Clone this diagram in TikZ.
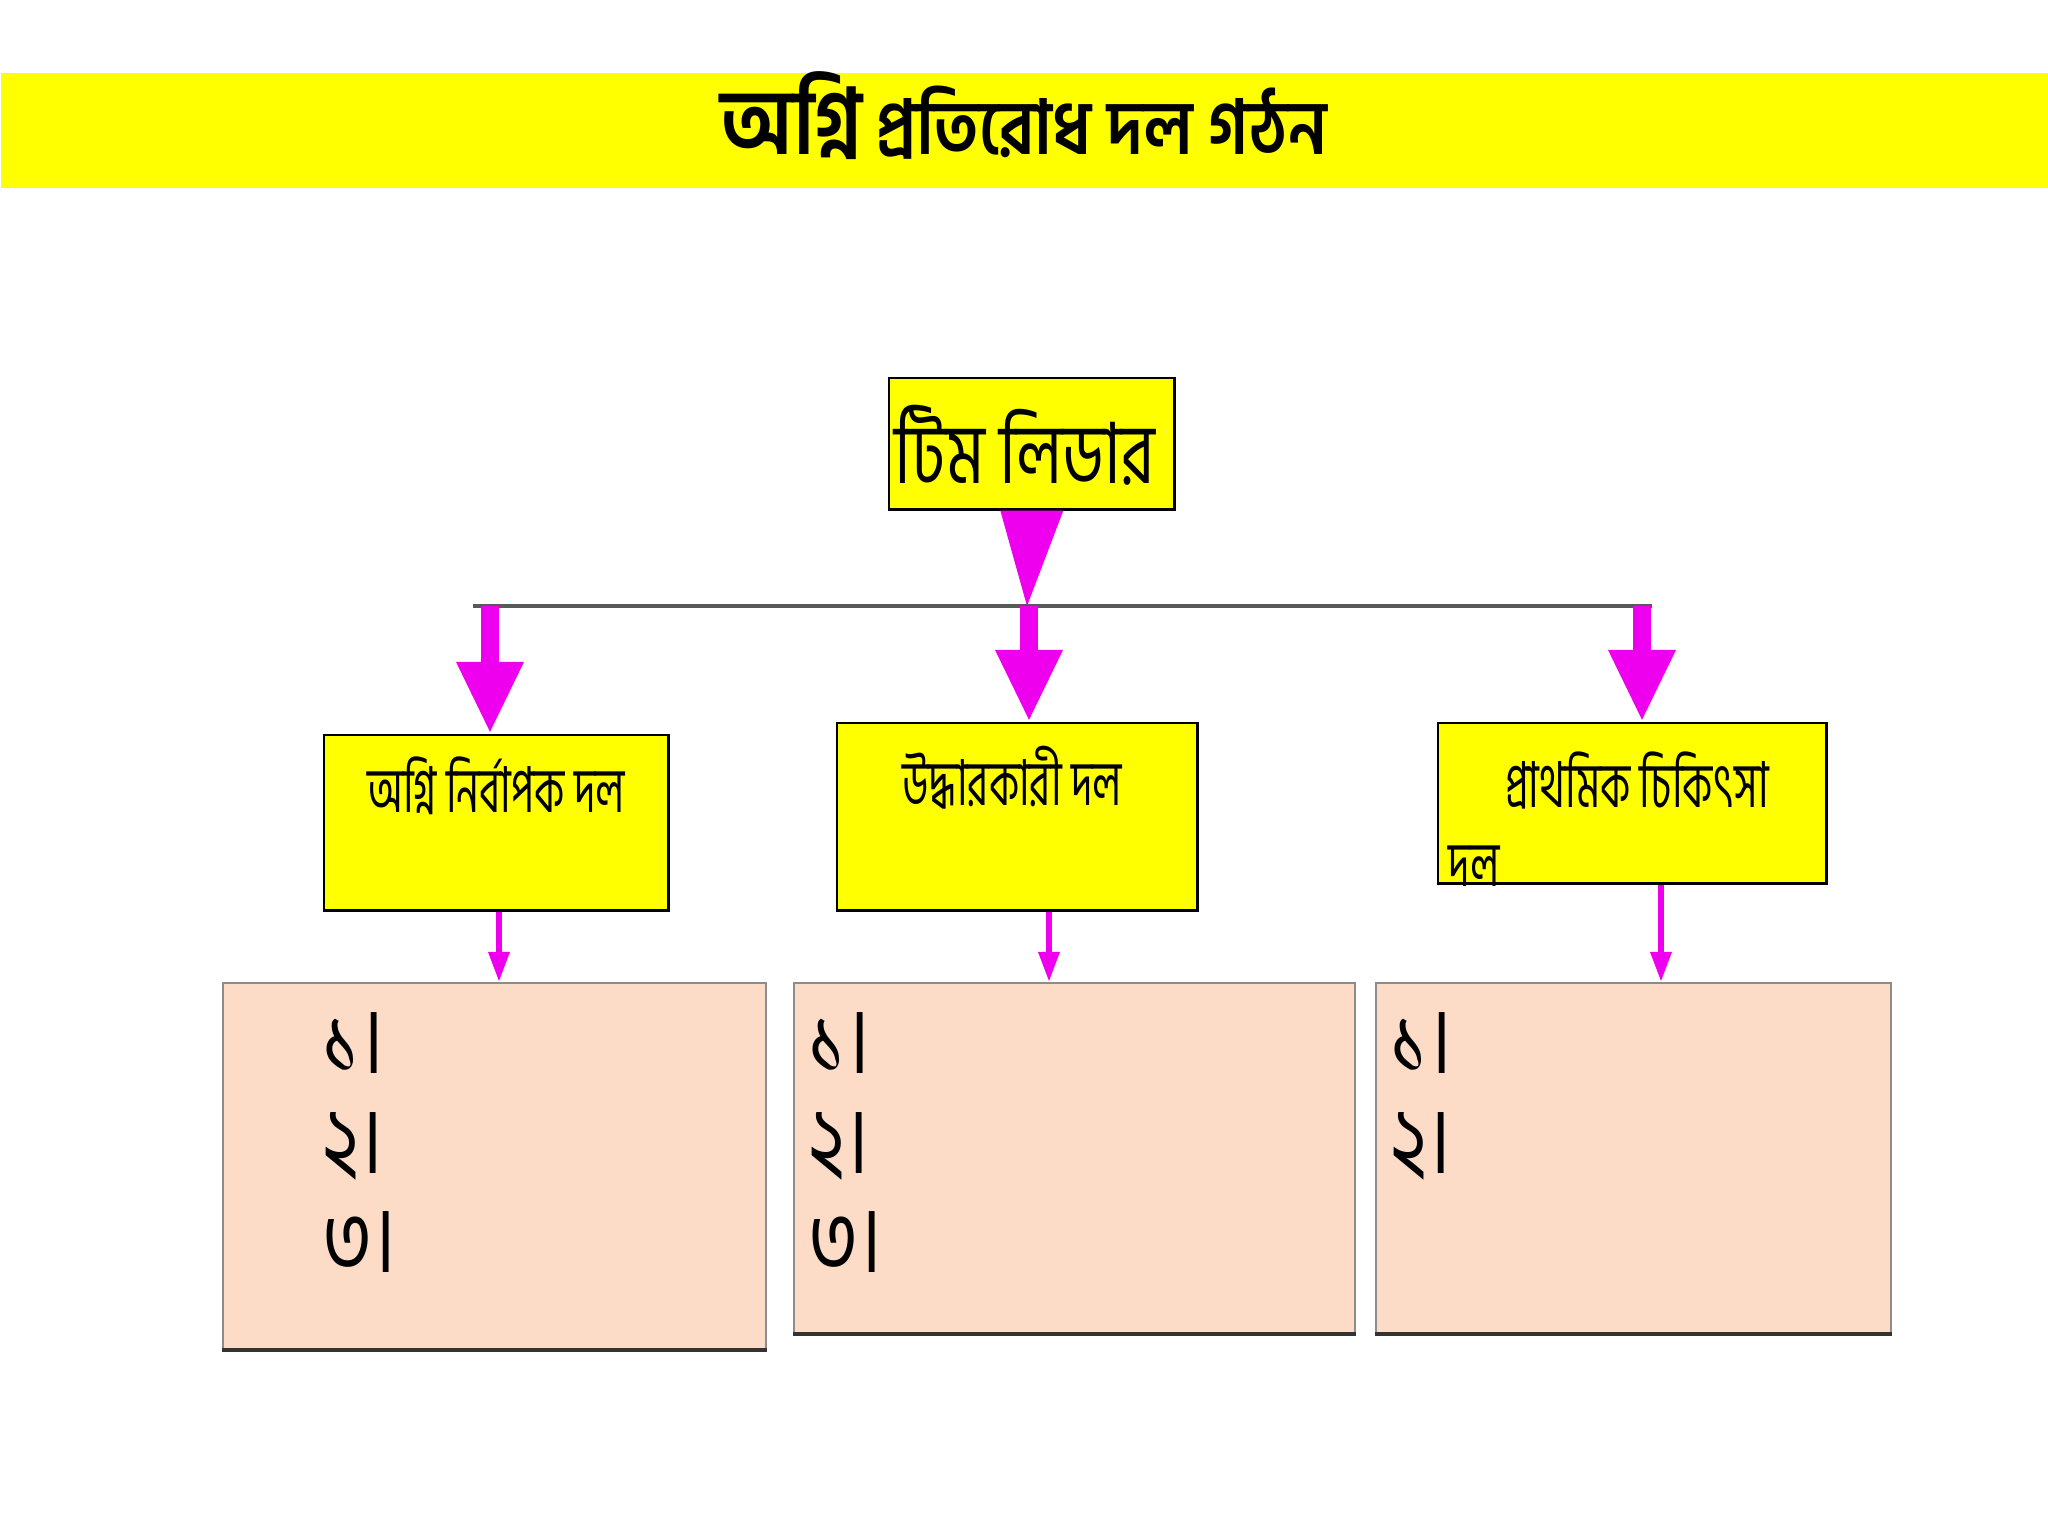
\documentclass[tikz,border=0pt]{standalone}
\usepackage{fontspec}
\newfontfamily\bn[Script=Bengali]{Hind Siliguri}
\usetikzlibrary{arrows.meta}
\definecolor{ban}{RGB}{255,255,0}
\definecolor{mag}{RGB}{238,0,238}
\definecolor{peach}{RGB}{252,220,199}
\tikzset{
  ybox/.style={draw=black, line width=0.7pt, fill=ban, inner sep=0pt, anchor=north west},
  pbox/.style={draw=black!45, line width=0.6pt, fill=peach, inner sep=0pt, anchor=north west},
  bottomedge/.style={draw=black!80, line width=1.2pt},
  lbl/.style={inner sep=0pt, font=\bn, transform shape},
  boxlbl/.style={lbl, xscale=0.64, font=\bn\fontsize{18}{21}\selectfont},
  bigarrow/.style={draw=mag, line width=0.18cm, -{Triangle[width=0.62cm,length=0.72cm]}},
  smallarrow/.style={draw=mag, line width=0.06cm, -{Triangle[width=0.2cm,length=0.3cm]}},
  nums/.style={inner sep=0pt, anchor=north west, align=left, transform shape, xscale=0.8, font=\bn\fontsize{27}{28.3}\selectfont}
}
\begin{document}
\begin{tikzpicture}[x=0.01cm,y=-0.01cm]
\useasboundingbox (0,0) rectangle (2048,1536);
\fill[white] (0,0) rectangle (2048,1536);
% banner
\node[fill=ban, inner sep=0pt, minimum width=20.48cm, minimum height=1.15cm, anchor=north west] (banner) at (0,72) {};
\node[lbl, xscale=0.88] (title) at (1024,116) {\bfseries{\fontsize{26}{30}\selectfont অগ্নি}\hspace{0.45em}{\fontsize{21.5}{26}\selectfont প্রতিরোধ দল গঠন}};
% leader
\node[ybox, minimum width=2.85cm, minimum height=1.31cm] (L) at (888,377) {};
\node[lbl, xscale=0.76, font=\bn\fontsize{24}{28}\selectfont] (Lt) at (1025,445) {টিম লিডার};
% second level
\node[ybox, minimum width=3.44cm, minimum height=1.75cm] (A) at (323,734) {};
\node[ybox, minimum width=3.60cm, minimum height=1.87cm] (B) at (836,722) {};
\node[ybox, minimum width=3.88cm, minimum height=1.60cm] (C) at (1437,722) {};
\node[boxlbl] (At) at (496,786) {অগ্নি নির্বাপক দল};
\node[boxlbl] (Bt) at (1012,778) {উদ্ধারকারী দল};
\node[boxlbl] (Ct) at (1637,780) {প্রাথমিক চিকিৎসা};
\node[boxlbl] (Ct2) at (1474,866) {দল};
% third level
\node[pbox, minimum width=5.43cm, minimum height=3.66cm] (P1) at (222,982) {};
\node[pbox, minimum width=5.61cm, minimum height=3.50cm] (P2) at (793,982) {};
\node[pbox, minimum width=5.15cm, minimum height=3.50cm] (P3) at (1375,982) {};
\draw[bottomedge] (P1.south west) -- (P1.south east);
\draw[bottomedge] (P2.south west) -- (P2.south east);
\draw[bottomedge] (P3.south west) -- (P3.south east);
\node[nums] (N1) at (322,1012) {১।\\২।\\৩।};
\node[nums] (N2) at (808,1012) {১।\\২।\\৩।};
\node[nums] (N3) at (1390,1012) {১।\\২।};
% hub
\coordinate (hub) at (1027,606);
\coordinate (hl) at (473,606);
\coordinate (hr) at (1652,606);
\coordinate (xa) at (490,0);
\coordinate (xb) at (1029,0);
\coordinate (xc) at (1642,0);
\coordinate (sa) at (499,0);
\coordinate (sb) at (1049,0);
\coordinate (sc) at (1661,0);
\fill[mag] ([xshift=-0.315cm]L.south) -- ([xshift=0.315cm]L.south) -- (hub) -- cycle;
\draw[black!65, line width=0.9pt] (hl) -- (hr);
\draw[bigarrow] (hub -| xa) -- (A.north -| xa);
\draw[bigarrow] (hub -| xb) -- (B.north -| xb);
\draw[bigarrow] (hub -| xc) -- (C.north -| xc);
\draw[smallarrow] (A.south -| sa) -- (P1.north -| sa);
\draw[smallarrow] (B.south -| sb) -- (P2.north -| sb);
\draw[smallarrow] (C.south -| sc) -- (P3.north -| sc);
\end{tikzpicture}
\end{document}
